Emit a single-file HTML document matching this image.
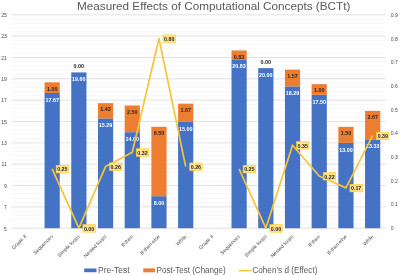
<!DOCTYPE html>
<html><head><meta charset="utf-8"><style>
html,body{margin:0;padding:0;background:#fff;}
body{width:400px;height:275px;overflow:hidden;}
svg{display:block;will-change:transform;font-family:"Liberation Sans",sans-serif;}
.ax{font-size:5.1px;fill:#4a4a4a;}
.cat{font-size:5.1px;fill:#4a4a4a;}
.dl{font-size:5.4px;font-weight:bold;}
.dl2{font-size:5.3px;font-weight:bold;fill:#262626;}
.title{font-size:11.72px;fill:#595959;}
.lg{font-size:8.3px;fill:#595959;}
</style></head><body>
<svg width="400" height="275" viewBox="0 0 400 275">
<rect width="400" height="275" fill="#fff"/>
<line x1="11.5" x2="385.6" y1="228.20" y2="228.20" stroke="#D9D9D9" stroke-width="0.8"/>
<line x1="11.5" x2="385.6" y1="223.93" y2="223.93" stroke="#F2F2F2" stroke-width="0.6"/>
<line x1="11.5" x2="385.6" y1="219.66" y2="219.66" stroke="#F2F2F2" stroke-width="0.6"/>
<line x1="11.5" x2="385.6" y1="215.40" y2="215.40" stroke="#F2F2F2" stroke-width="0.6"/>
<line x1="11.5" x2="385.6" y1="211.13" y2="211.13" stroke="#F2F2F2" stroke-width="0.6"/>
<line x1="11.5" x2="385.6" y1="206.86" y2="206.86" stroke="#D9D9D9" stroke-width="0.8"/>
<line x1="11.5" x2="385.6" y1="202.59" y2="202.59" stroke="#F2F2F2" stroke-width="0.6"/>
<line x1="11.5" x2="385.6" y1="198.32" y2="198.32" stroke="#F2F2F2" stroke-width="0.6"/>
<line x1="11.5" x2="385.6" y1="194.06" y2="194.06" stroke="#F2F2F2" stroke-width="0.6"/>
<line x1="11.5" x2="385.6" y1="189.79" y2="189.79" stroke="#F2F2F2" stroke-width="0.6"/>
<line x1="11.5" x2="385.6" y1="185.52" y2="185.52" stroke="#D9D9D9" stroke-width="0.8"/>
<line x1="11.5" x2="385.6" y1="181.25" y2="181.25" stroke="#F2F2F2" stroke-width="0.6"/>
<line x1="11.5" x2="385.6" y1="176.98" y2="176.98" stroke="#F2F2F2" stroke-width="0.6"/>
<line x1="11.5" x2="385.6" y1="172.72" y2="172.72" stroke="#F2F2F2" stroke-width="0.6"/>
<line x1="11.5" x2="385.6" y1="168.45" y2="168.45" stroke="#F2F2F2" stroke-width="0.6"/>
<line x1="11.5" x2="385.6" y1="164.18" y2="164.18" stroke="#D9D9D9" stroke-width="0.8"/>
<line x1="11.5" x2="385.6" y1="159.91" y2="159.91" stroke="#F2F2F2" stroke-width="0.6"/>
<line x1="11.5" x2="385.6" y1="155.64" y2="155.64" stroke="#F2F2F2" stroke-width="0.6"/>
<line x1="11.5" x2="385.6" y1="151.38" y2="151.38" stroke="#F2F2F2" stroke-width="0.6"/>
<line x1="11.5" x2="385.6" y1="147.11" y2="147.11" stroke="#F2F2F2" stroke-width="0.6"/>
<line x1="11.5" x2="385.6" y1="142.84" y2="142.84" stroke="#D9D9D9" stroke-width="0.8"/>
<line x1="11.5" x2="385.6" y1="138.57" y2="138.57" stroke="#F2F2F2" stroke-width="0.6"/>
<line x1="11.5" x2="385.6" y1="134.30" y2="134.30" stroke="#F2F2F2" stroke-width="0.6"/>
<line x1="11.5" x2="385.6" y1="130.04" y2="130.04" stroke="#F2F2F2" stroke-width="0.6"/>
<line x1="11.5" x2="385.6" y1="125.77" y2="125.77" stroke="#F2F2F2" stroke-width="0.6"/>
<line x1="11.5" x2="385.6" y1="121.50" y2="121.50" stroke="#D9D9D9" stroke-width="0.8"/>
<line x1="11.5" x2="385.6" y1="117.23" y2="117.23" stroke="#F2F2F2" stroke-width="0.6"/>
<line x1="11.5" x2="385.6" y1="112.96" y2="112.96" stroke="#F2F2F2" stroke-width="0.6"/>
<line x1="11.5" x2="385.6" y1="108.70" y2="108.70" stroke="#F2F2F2" stroke-width="0.6"/>
<line x1="11.5" x2="385.6" y1="104.43" y2="104.43" stroke="#F2F2F2" stroke-width="0.6"/>
<line x1="11.5" x2="385.6" y1="100.16" y2="100.16" stroke="#D9D9D9" stroke-width="0.8"/>
<line x1="11.5" x2="385.6" y1="95.89" y2="95.89" stroke="#F2F2F2" stroke-width="0.6"/>
<line x1="11.5" x2="385.6" y1="91.62" y2="91.62" stroke="#F2F2F2" stroke-width="0.6"/>
<line x1="11.5" x2="385.6" y1="87.36" y2="87.36" stroke="#F2F2F2" stroke-width="0.6"/>
<line x1="11.5" x2="385.6" y1="83.09" y2="83.09" stroke="#F2F2F2" stroke-width="0.6"/>
<line x1="11.5" x2="385.6" y1="78.82" y2="78.82" stroke="#D9D9D9" stroke-width="0.8"/>
<line x1="11.5" x2="385.6" y1="74.55" y2="74.55" stroke="#F2F2F2" stroke-width="0.6"/>
<line x1="11.5" x2="385.6" y1="70.28" y2="70.28" stroke="#F2F2F2" stroke-width="0.6"/>
<line x1="11.5" x2="385.6" y1="66.02" y2="66.02" stroke="#F2F2F2" stroke-width="0.6"/>
<line x1="11.5" x2="385.6" y1="61.75" y2="61.75" stroke="#F2F2F2" stroke-width="0.6"/>
<line x1="11.5" x2="385.6" y1="57.48" y2="57.48" stroke="#D9D9D9" stroke-width="0.8"/>
<line x1="11.5" x2="385.6" y1="53.21" y2="53.21" stroke="#F2F2F2" stroke-width="0.6"/>
<line x1="11.5" x2="385.6" y1="48.94" y2="48.94" stroke="#F2F2F2" stroke-width="0.6"/>
<line x1="11.5" x2="385.6" y1="44.68" y2="44.68" stroke="#F2F2F2" stroke-width="0.6"/>
<line x1="11.5" x2="385.6" y1="40.41" y2="40.41" stroke="#F2F2F2" stroke-width="0.6"/>
<line x1="11.5" x2="385.6" y1="36.14" y2="36.14" stroke="#D9D9D9" stroke-width="0.8"/>
<line x1="11.5" x2="385.6" y1="31.87" y2="31.87" stroke="#F2F2F2" stroke-width="0.6"/>
<line x1="11.5" x2="385.6" y1="27.60" y2="27.60" stroke="#F2F2F2" stroke-width="0.6"/>
<line x1="11.5" x2="385.6" y1="23.34" y2="23.34" stroke="#F2F2F2" stroke-width="0.6"/>
<line x1="11.5" x2="385.6" y1="19.07" y2="19.07" stroke="#F2F2F2" stroke-width="0.6"/>
<line x1="11.5" x2="385.6" y1="14.80" y2="14.80" stroke="#D9D9D9" stroke-width="0.8"/>
<text x="6.9" y="230.50" text-anchor="end" class="ax">5</text>
<text x="6.9" y="209.16" text-anchor="end" class="ax">7</text>
<text x="6.9" y="187.82" text-anchor="end" class="ax">9</text>
<text x="6.9" y="166.48" text-anchor="end" class="ax">11</text>
<text x="6.9" y="145.14" text-anchor="end" class="ax">13</text>
<text x="6.9" y="123.80" text-anchor="end" class="ax">15</text>
<text x="6.9" y="102.46" text-anchor="end" class="ax">17</text>
<text x="6.9" y="81.12" text-anchor="end" class="ax">19</text>
<text x="6.9" y="59.78" text-anchor="end" class="ax">21</text>
<text x="6.9" y="38.44" text-anchor="end" class="ax">23</text>
<text x="6.9" y="17.10" text-anchor="end" class="ax">25</text>
<text x="390.8" y="230.20" class="ax">0</text>
<text x="390.8" y="206.49" class="ax">0.1</text>
<text x="390.8" y="182.78" class="ax">0.2</text>
<text x="390.8" y="159.07" class="ax">0.3</text>
<text x="390.8" y="135.36" class="ax">0.4</text>
<text x="390.8" y="111.64" class="ax">0.5</text>
<text x="390.8" y="87.93" class="ax">0.6</text>
<text x="390.8" y="64.22" class="ax">0.7</text>
<text x="390.8" y="40.51" class="ax">0.8</text>
<text x="390.8" y="16.80" class="ax">0.9</text>
<rect x="44.56" y="93.01" width="15.2" height="135.19" fill="#4472C4"/>
<rect x="44.56" y="82.34" width="15.2" height="10.67" fill="#ED7D31"/>
<rect x="71.27" y="72.42" width="15.2" height="155.78" fill="#4472C4"/>
<rect x="97.97" y="118.41" width="15.2" height="109.79" fill="#4472C4"/>
<rect x="97.97" y="103.15" width="15.2" height="15.26" fill="#ED7D31"/>
<rect x="124.68" y="132.17" width="15.2" height="96.03" fill="#4472C4"/>
<rect x="124.68" y="105.49" width="15.2" height="26.67" fill="#ED7D31"/>
<rect x="151.39" y="196.19" width="15.2" height="32.01" fill="#4472C4"/>
<rect x="151.39" y="126.84" width="15.2" height="69.35" fill="#ED7D31"/>
<rect x="178.10" y="121.50" width="15.2" height="106.70" fill="#4472C4"/>
<rect x="178.10" y="103.68" width="15.2" height="17.82" fill="#ED7D31"/>
<rect x="231.51" y="59.29" width="15.2" height="168.91" fill="#4472C4"/>
<rect x="231.51" y="50.44" width="15.2" height="8.86" fill="#ED7D31"/>
<rect x="258.22" y="68.15" width="15.2" height="160.05" fill="#4472C4"/>
<rect x="284.92" y="86.40" width="15.2" height="141.80" fill="#4472C4"/>
<rect x="284.92" y="69.64" width="15.2" height="16.75" fill="#ED7D31"/>
<rect x="311.63" y="94.83" width="15.2" height="133.37" fill="#4472C4"/>
<rect x="311.63" y="84.16" width="15.2" height="10.67" fill="#ED7D31"/>
<rect x="338.34" y="142.84" width="15.2" height="85.36" fill="#4472C4"/>
<rect x="338.34" y="126.84" width="15.2" height="16.00" fill="#ED7D31"/>
<rect x="365.05" y="139.32" width="15.2" height="88.88" fill="#4472C4"/>
<rect x="365.05" y="110.83" width="15.2" height="28.49" fill="#ED7D31"/>
<text x="52.16" y="102.01" text-anchor="middle" class="dl" fill="#FFFFFF">17.67</text>
<text x="52.16" y="90.64" text-anchor="middle" class="dl" fill="#262626">1.00</text>
<text x="78.87" y="81.42" text-anchor="middle" class="dl" fill="#FFFFFF">19.60</text>
<text x="78.87" y="67.92" text-anchor="middle" class="dl" fill="#262626">0.00</text>
<text x="105.57" y="127.41" text-anchor="middle" class="dl" fill="#FFFFFF">15.29</text>
<text x="105.57" y="111.45" text-anchor="middle" class="dl" fill="#262626">1.43</text>
<text x="132.28" y="141.17" text-anchor="middle" class="dl" fill="#FFFFFF">14.00</text>
<text x="132.28" y="113.79" text-anchor="middle" class="dl" fill="#262626">2.50</text>
<text x="158.99" y="205.19" text-anchor="middle" class="dl" fill="#FFFFFF">8.00</text>
<text x="158.99" y="135.14" text-anchor="middle" class="dl" fill="#262626">6.50</text>
<text x="185.70" y="130.50" text-anchor="middle" class="dl" fill="#FFFFFF">15.00</text>
<text x="185.70" y="111.98" text-anchor="middle" class="dl" fill="#262626">1.67</text>
<text x="239.11" y="68.29" text-anchor="middle" class="dl" fill="#FFFFFF">20.83</text>
<text x="239.11" y="58.74" text-anchor="middle" class="dl" fill="#262626">0.83</text>
<text x="265.82" y="77.15" text-anchor="middle" class="dl" fill="#FFFFFF">20.00</text>
<text x="265.82" y="63.65" text-anchor="middle" class="dl" fill="#262626">0.00</text>
<text x="292.52" y="95.40" text-anchor="middle" class="dl" fill="#FFFFFF">18.29</text>
<text x="292.52" y="77.94" text-anchor="middle" class="dl" fill="#262626">1.57</text>
<text x="319.23" y="103.83" text-anchor="middle" class="dl" fill="#FFFFFF">17.50</text>
<text x="319.23" y="92.45" text-anchor="middle" class="dl" fill="#262626">1.00</text>
<text x="345.94" y="151.84" text-anchor="middle" class="dl" fill="#FFFFFF">13.00</text>
<text x="345.94" y="135.14" text-anchor="middle" class="dl" fill="#262626">1.50</text>
<text x="372.65" y="148.32" text-anchor="middle" class="dl" fill="#FFFFFF">13.33</text>
<text x="372.65" y="119.13" text-anchor="middle" class="dl" fill="#262626">2.67</text>
<polyline points="52.16,168.92 78.87,228.20 105.57,166.55 132.28,152.32 158.99,38.51 185.70,166.55" fill="none" stroke="#F5C53A" stroke-width="1.7" stroke-linejoin="round"/>
<polyline points="239.11,168.92 265.82,228.20 292.52,145.21 319.23,176.04 345.94,187.89 372.65,135.73" fill="none" stroke="#F5C53A" stroke-width="1.7" stroke-linejoin="round"/>
<rect x="56.16" y="165.32" width="12.4" height="7.6" fill="#FFE38C" stroke="#FFCB2E" stroke-width="0.6"/>
<text x="62.36" y="171.42" text-anchor="middle" class="dl2">0.25</text>
<rect x="82.87" y="224.60" width="12.4" height="7.6" fill="#FFE38C" stroke="#FFCB2E" stroke-width="0.6"/>
<text x="89.07" y="230.70" text-anchor="middle" class="dl2">0.00</text>
<rect x="109.57" y="162.95" width="12.4" height="7.6" fill="#FFE38C" stroke="#FFCB2E" stroke-width="0.6"/>
<text x="115.77" y="169.05" text-anchor="middle" class="dl2">0.26</text>
<rect x="136.28" y="148.72" width="12.4" height="7.6" fill="#FFE38C" stroke="#FFCB2E" stroke-width="0.6"/>
<text x="142.48" y="154.82" text-anchor="middle" class="dl2">0.32</text>
<rect x="162.99" y="34.91" width="12.4" height="7.6" fill="#FFE38C" stroke="#FFCB2E" stroke-width="0.6"/>
<text x="169.19" y="41.01" text-anchor="middle" class="dl2">0.80</text>
<rect x="189.70" y="162.95" width="12.4" height="7.6" fill="#FFE38C" stroke="#FFCB2E" stroke-width="0.6"/>
<text x="195.90" y="169.05" text-anchor="middle" class="dl2">0.26</text>
<rect x="243.11" y="165.32" width="12.4" height="7.6" fill="#FFE38C" stroke="#FFCB2E" stroke-width="0.6"/>
<text x="249.31" y="171.42" text-anchor="middle" class="dl2">0.25</text>
<rect x="269.82" y="224.60" width="12.4" height="7.6" fill="#FFE38C" stroke="#FFCB2E" stroke-width="0.6"/>
<text x="276.02" y="230.70" text-anchor="middle" class="dl2">0.00</text>
<rect x="296.52" y="141.61" width="12.4" height="7.6" fill="#FFE38C" stroke="#FFCB2E" stroke-width="0.6"/>
<text x="302.72" y="147.71" text-anchor="middle" class="dl2">0.35</text>
<rect x="323.23" y="172.44" width="12.4" height="7.6" fill="#FFE38C" stroke="#FFCB2E" stroke-width="0.6"/>
<text x="329.43" y="178.54" text-anchor="middle" class="dl2">0.22</text>
<rect x="349.94" y="184.29" width="12.4" height="7.6" fill="#FFE38C" stroke="#FFCB2E" stroke-width="0.6"/>
<text x="356.14" y="190.39" text-anchor="middle" class="dl2">0.17</text>
<rect x="376.65" y="132.13" width="12.4" height="7.6" fill="#FFE38C" stroke="#FFCB2E" stroke-width="0.6"/>
<text x="382.85" y="138.23" text-anchor="middle" class="dl2">0.39</text>
<text transform="translate(24.45,234.60) rotate(-45)" text-anchor="end" class="cat" dy="3.2">Grade 3</text>
<text transform="translate(51.16,234.60) rotate(-45)" text-anchor="end" class="cat" dy="3.2">Sequences</text>
<text transform="translate(77.87,234.60) rotate(-45)" text-anchor="end" class="cat" dy="3.2">Simple loops</text>
<text transform="translate(104.57,234.60) rotate(-45)" text-anchor="end" class="cat" dy="3.2">Nested loops</text>
<text transform="translate(131.28,234.60) rotate(-45)" text-anchor="end" class="cat" dy="3.2">If-then</text>
<text transform="translate(157.99,234.60) rotate(-45)" text-anchor="end" class="cat" dy="3.2">If-then-else</text>
<text transform="translate(184.70,234.60) rotate(-45)" text-anchor="end" class="cat" dy="3.2">While</text>
<text transform="translate(211.40,234.60) rotate(-45)" text-anchor="end" class="cat" dy="3.2">Grade 4</text>
<text transform="translate(238.11,234.60) rotate(-45)" text-anchor="end" class="cat" dy="3.2">Sequences</text>
<text transform="translate(264.82,234.60) rotate(-45)" text-anchor="end" class="cat" dy="3.2">Simple loops</text>
<text transform="translate(291.52,234.60) rotate(-45)" text-anchor="end" class="cat" dy="3.2">Nested loops</text>
<text transform="translate(318.23,234.60) rotate(-45)" text-anchor="end" class="cat" dy="3.2">If-then</text>
<text transform="translate(344.94,234.60) rotate(-45)" text-anchor="end" class="cat" dy="3.2">If-then-else</text>
<text transform="translate(371.65,234.60) rotate(-45)" text-anchor="end" class="cat" dy="3.2">While</text>
<text x="77.0" y="9.55" class="title">Measured Effects of Computational Concepts (BCTt)</text>
<rect x="84.2" y="268.5" width="12.3" height="3.7" fill="#4472C4"/>
<text x="98.1" y="272.6" class="lg" textLength="31.4" lengthAdjust="spacingAndGlyphs">Pre-Test</text>
<rect x="143.3" y="268.4" width="11.7" height="3.9" fill="#ED7D31"/>
<text x="156.6" y="272.6" class="lg" textLength="69.0" lengthAdjust="spacingAndGlyphs">Post-Test (Change)</text>
<line x1="238.7" x2="251.7" y1="270.6" y2="270.6" stroke="#F5C53A" stroke-width="1.5"/>
<text x="252.4" y="272.6" class="lg" textLength="65.0" lengthAdjust="spacingAndGlyphs">Cohen’s d (Effect)</text>
</svg>
</body></html>
